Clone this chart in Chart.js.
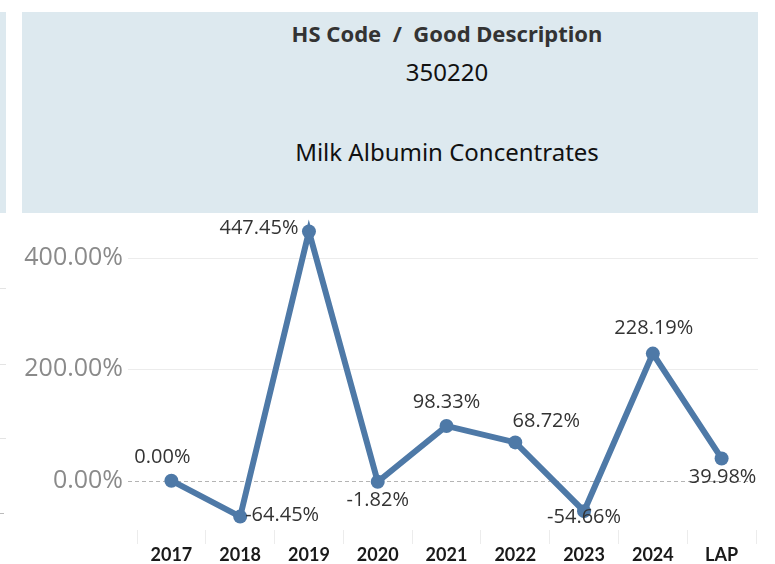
<!DOCTYPE html>
<html>
<head>
<meta charset="utf-8">
<script src="https://cdn.jsdelivr.net/npm/chart.js@4"></script>
<style>
    body { margin: 0; background: #fff; width: 775px; height: 564px; overflow: hidden; position: relative; font-family: "Noto Sans", sans-serif; }
    .panel { position: absolute; background: #dde9ef; }
    .head { position: absolute; left: 247px; width: 400px; text-align: center; color: #111; font-size: 24px; line-height: 30px; }
    .frag { position: absolute; left: 0; width: 6px; height: 1px; background: #e4e4e4; }
    #wrap { position: absolute; left: 0; top: 213px; width: 775px; height: 351px; }
</style>
</head>
<body>
<div class="panel" style="left:0;top:12px;width:6px;height:201px"></div>
<div class="panel" style="left:22px;top:12px;width:736px;height:201px"></div>
<div class="head" style="top:18px;font-size:22px;font-weight:bold;color:#333">HS Code&nbsp; / &nbsp;Good Description</div>
<div class="head" style="top:57px">350220</div>
<div class="head" style="top:137px">Milk Albumin Concentrates</div>

<!-- bits of the neighbouring pane on the far left -->
<div class="frag" style="top:288px"></div>
<div class="frag" style="top:364px"></div>
<div class="frag" style="top:438px"></div>
<div class="frag" style="top:513px;width:4px;background:#bbb"></div>

<div id="wrap"><canvas id="chart"></canvas></div>

<script>
document.addEventListener('DOMContentLoaded', () => {
    const years = ['2017', '2018', '2019', '2020', '2021', '2022', '2023', '2024', 'LAP'];
    const growth = [0.00, -64.45, 447.45, -1.82, 98.33, 68.72, -54.66, 228.19, 39.98];
    const yTicks = [0, 200, 400];

    const blue = '#4e79a7';
    const pct = v => v.toFixed(2) + '%';

    // label offsets from each point
    const labelOffsets = [[-9, -23], [42, -1], [-50, -3], [0, 19], [0, -24], [31, -21], [0, 6], [1, -25], [1, 19]];

    // horizontal grid + dashed zero line, a bit wider than the plot on the left
    const gridLines = {
        id: 'gridLines',
        beforeDatasetsDraw(chart) {
            const { ctx, chartArea, scales } = chart;
            const left = chartArea.left - 9;
            ctx.save();
            ctx.lineWidth = 1;
            yTicks.forEach(v => {
                const y = Math.round(scales.y.getPixelForValue(v)) + 0.5;
                if (v === 0) {
                    ctx.strokeStyle = '#b4b4b4';
                    ctx.setLineDash([4, 3]);
                } else {
                    ctx.strokeStyle = '#ececec';
                    ctx.setLineDash([]);
                }
                ctx.beginPath();
                ctx.moveTo(left, y);
                ctx.lineTo(chartArea.right + 2, y);
                ctx.stroke();
            });
            ctx.restore();
        }
    };

    // value labels next to the points
    const pointLabels = {
        id: 'pointLabels',
        afterDatasetsDraw(chart) {
            const { ctx } = chart;
            const meta = chart.getDatasetMeta(0);
            ctx.save();
            ctx.font = '20px "Open Sans", sans-serif';
            ctx.fillStyle = '#333';
            ctx.textAlign = 'center';
            ctx.textBaseline = 'middle';
            meta.data.forEach((pt, i) => {
                const [dx, dy] = labelOffsets[i];
                ctx.fillText(pct(growth[i]), pt.x + dx, pt.y + dy);
            });
            ctx.restore();
        }
    };

    new Chart(document.getElementById('chart'), {
        type: 'line',
        data: {
            labels: years,
            datasets: [{
                data: growth,
                borderColor: blue,
                backgroundColor: blue,
                borderWidth: 6,
                pointRadius: 7,
                pointHoverRadius: 7,
                pointBackgroundColor: blue,
                pointBorderWidth: 0,
                tension: 0,
                clip: 10
            }]
        },
        options: {
            responsive: true,
            maintainAspectRatio: false,
            animation: false,
            layout: { padding: { top: -2, right: 19, left: 0, bottom: 0 } },
            plugins: { legend: { display: false }, tooltip: { enabled: false } },
            scales: {
                x: {
                    offset: true,
                    border: { display: false },
                    grid: {
                        offset: true,
                        drawOnChartArea: false,
                        tickLength: 14,
                        tickColor: '#ececec',
                        tickWidth: 1
                    },
                    ticks: {
                        color: '#1a1a1a',
                        font: { family: 'Lato', size: 18, weight: 'bold' },
                        padding: 0,
                        maxRotation: 0
                    },
                    afterFit(scale) { scale.height = 34; }
                },
                y: {
                    // plot area starts ~11px into the canvas; range picked to keep ~0.55px per point
                    min: -88.5,
                    max: 468,
                    border: { display: false },
                    afterBuildTicks(scale) { scale.ticks = yTicks.map(v => ({ value: v })); },
                    grid: { display: false, drawTicks: false },
                    ticks: {
                        color: '#8a8a8a',
                        font: { family: 'Open Sans', size: 25 },
                        padding: 14,
                        callback: v => pct(v)
                    },
                    afterFit(scale) {
                        scale.width = 137;
                        scale.paddingTop = 0;
                        scale.paddingBottom = 0;
                    }
                }
            }
        },
        plugins: [gridLines, pointLabels]
    });
});
</script>
</body>
</html>
